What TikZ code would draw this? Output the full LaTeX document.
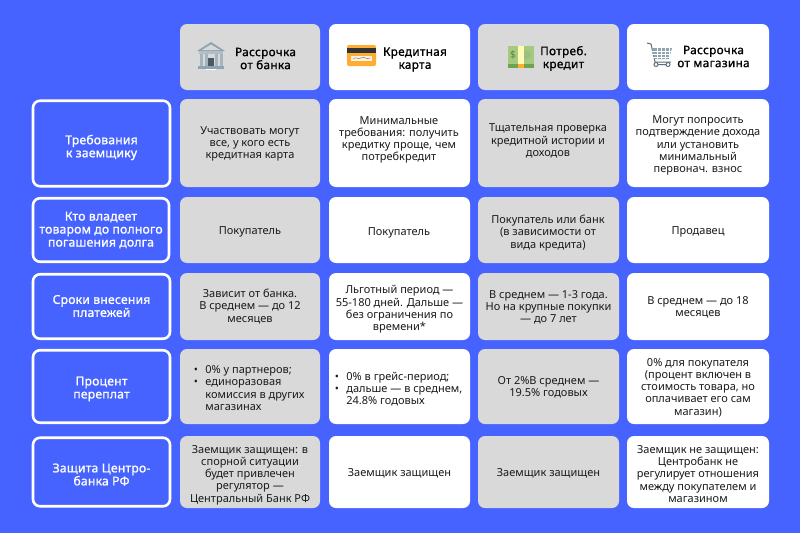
\documentclass[tikz,border=0pt]{standalone}
\usepackage{fontspec}
\setmainfont{Noto Sans}
\newfontfamily\labelfont[FakeBold=1.1,LetterSpace=1.5]{Noto Sans}
\newfontfamily\headfont[FakeBold=1.1,LetterSpace=3]{Noto Sans}
\definecolor{bgblue}{HTML}{4763FF}
\definecolor{cellgrey}{HTML}{D9D9D9}
\definecolor{inktext}{HTML}{1A1A1A}
\definecolor{iconslate}{HTML}{8FA3B0}
\definecolor{icondark}{HTML}{5F6F7A}
\definecolor{cardorange}{HTML}{FFAC33}
\definecolor{moneygreen}{HTML}{A5C97F}
\definecolor{moneydark}{HTML}{6FA34F}
\tikzset{
	cell/.style={rounded corners=7pt, inner sep=0pt},
	greycell/.style={cell, fill=cellgrey},
	whitecell/.style={cell, fill=white},
	celltext/.style={inner sep=0pt, text=inktext, align=center,
		font=\fontsize{11}{12.2}\selectfont},
	listtext/.style={celltext, align=left, anchor=west},
	headtext/.style={inner sep=0pt, text=black, align=center,
		font=\fontsize{11.7}{13}\headfont},
	rowlabel/.style={cell, draw=white, line width=2.6pt, fill=bgblue},
	labeltext/.style={inner sep=0pt, text=white, align=center,
		font=\fontsize{12.2}{13}\labelfont},
}
\newcommand{\listdot}{\makebox[11.5pt][l]{\textbullet}}
\newcommand{\listgap}{\makebox[11.5pt]{}}
\begin{document}
\begin{tikzpicture}[x=1pt,y=-1pt]
	\useasboundingbox[fill=bgblue] (0,0) rectangle (800,533);
	% table cells
	\foreach \colname/\cx/\cw/\kind in {bank/250/140/greycell, card/399.5/141/whitecell, loan/548.5/141/greycell, shop/698/142/whitecell}
		\foreach \rowname/\cy/\ch in {head/57/66, req/143/88, own/230/66, term/306.5/67, rate/386.5/75, safe/472/72}
			\node[\kind, minimum width=\cw pt, minimum height=\ch pt] (\rowname\colname) at (\cx,\cy) {};
	% row labels
	\foreach \rowname/\cx/\cy/\cw/\ch in {req/101.5/143.5/137/85.5, own/101/230/136/63.5, term/101.5/306.5/137/64.5, rate/101.5/386.5/137/72.5, safe/101.5/472/137/68.5}
		\node[rowlabel, minimum width=\cw pt, minimum height=\ch pt] (\rowname label) at (\cx,\cy) {};
	% header texts
	\node[headtext] (txtbank) at (265.5,58.5) {Рассрочка\\от банка};
	\node[headtext] (txtcard) at (415,59.5) {Кредитная\\карта};
	\node[headtext] (txtloan) at (563.5,58.5) {Потреб.\\кредит};
	\node[headtext] (txtshop) at (713.5,56.5) {Рассрочка\\от магазина};
	% bank icon
	\fill[iconslate] (197,51) -- (211,42) -- (225,51) -- cycle;
	\fill[cellgrey] (202,50) -- (211,44.5) -- (220,50) -- cycle;
	\fill[iconslate!70] (199,51) rectangle (223,54);
	\foreach \xa in {200,205,215,220} \fill[iconslate!80] (\xa,54) rectangle +(3,12);
	\fill[icondark!80!black] (208,58) rectangle (214,66);
	\fill[iconslate] (198,66) rectangle (224,69);
	\fill[white] (206,69) rectangle (216,70);
	% card icon
	\fill[cardorange, rounded corners=2pt] (347,45) rectangle (376,66);
	\fill[black!80] (347,48) rectangle (376,53);
	\fill[white!85!cardorange] (351,56) rectangle (372,61);
	\draw[black!50, line width=.5pt] (353,59) .. controls (356,56) and (358,60) .. (361,58) .. controls (364,56) and (367,60) .. (370,58);
	% money icon
	\fill[moneygreen] (508,46) rectangle (534,64);
	\fill[moneydark] (508,64) rectangle (534,68);
	\fill[moneydark!70] (526,55) circle (4.5pt);
	\fill[white!70!yellow] (518,46) rectangle (524,64);
	\fill[cardorange] (518,64) rectangle (524,68);
	\node[inner sep=0pt, text=moneydark!80!black, font=\fontsize{10}{10}\selectfont] (dollar) at (513,55) {\$};
	% cart icon
	\draw[icondark, line width=1pt] (647,43) -- (651,44) -- (655,62) -- (671,62);
	\fill[iconslate] (652,48) -- (672,48) -- (669,59) -- (654.5,59) -- cycle;
	\foreach \ya in {51,54,57} \draw[white, line width=.5pt] (652,\ya) -- (672,\ya);
	\foreach \xa in {657,661,665,669} \draw[white, line width=.5pt] (\xa,48) -- (\xa,59);
	\draw[icondark, line width=1pt] (656,64.5) circle (2pt) (668,64.5) circle (2pt) (658,64.5) -- (666,64.5);
	% row label texts
	\node[labeltext] (reqname) at (101.5,147.5) {Требования\\к заемщику};
	\node[labeltext] (ownname) at (101,230) {Кто владеет\\товаром до полного\\погашения долга};
	\node[labeltext] (termname) at (101.5,306) {Сроки внесения\\платежей};
	\node[labeltext] (ratename) at (101.5,389) {Процент\\переплат};
	\node[labeltext] (safename) at (101.5,474.5) {Защита Центро-\\банка РФ};
	% requirements
	\node[celltext] (reqbanktxt) at (250,144) {Участвовать могут\\все, у кого есть\\кредитная карта};
	\node[celltext] (reqcardtxt) at (399,140) {Минимальные\\требования: получить\\кредитку проще, чем\\потребкредит};
	\node[celltext] (reqloantxt) at (548,141) {Тщательная проверка\\кредитной истории и\\доходов};
	\node[celltext] (reqshoptxt) at (698,145.5) {Могут попросить\\подтверждение дохода\\или установить\\минимальный\\первонач. взнос};
	% owner
	\node[celltext] (ownbanktxt) at (250,232) {Покупатель};
	\node[celltext] (owncardtxt) at (399,233) {Покупатель};
	\node[celltext] (ownloantxt) at (548,233) {Покупатель или банк\\(в зависимости от\\вида кредита)};
	\node[celltext] (ownshoptxt) at (698,232) {Продавец};
	% terms
	\node[celltext] (termbanktxt) at (250,306.5) {Зависит от банка.\\В среднем — до 12\\месяцев};
	\node[celltext] (termcardtxt) at (399.5,309.5) {Льготный период —\\55-180 дней. Дальше —\\без ограничения по\\времени*};
	\node[celltext] (termloantxt) at (548.5,307.5) {В среднем — 1-3 года.\\Но на крупные покупки\\— до 7 лет};
	\node[celltext] (termshoptxt) at (698,307.5) {В среднем — до 18\\месяцев};
	% rates
	\node[listtext] (ratebanktxt) at (193.7,388) {\listdot 0\% у партнеров;\\\listdot единоразовая\\\listgap комиссия в других\\\listgap магазинах};
	\node[listtext] (ratecardtxt) at (334.7,389) {\listdot 0\% в грейс-период;\\\listdot дальше — в среднем,\\\listgap 24.8\% годовых};
	\node[celltext] (rateloantxt) at (548.5,387.5) {От 2\%В среднем —\\19.5\% годовых};
	\node[celltext] (rateshoptxt) at (698,387.5) {0\% для покупателя\\(процент включен в\\стоимость товара, но\\оплачивает его сам\\магазин)};
	% protection
	\node[celltext] (safebanktxt) at (250,475) {Заемщик защищен: в\\спорной ситуации\\будет привлечен\\регулятор —\\Центральный Банк РФ};
	\node[celltext] (safecardtxt) at (399.5,473) {Заемщик защищен};
	\node[celltext] (safeloantxt) at (548.5,473) {Заемщик защищен};
	\node[celltext] (safeshoptxt) at (698,474) {Заемщик не защищен:\\Центробанк не\\регулирует отношения\\между покупателем и\\магазином};
\end{tikzpicture}
\end{document}
